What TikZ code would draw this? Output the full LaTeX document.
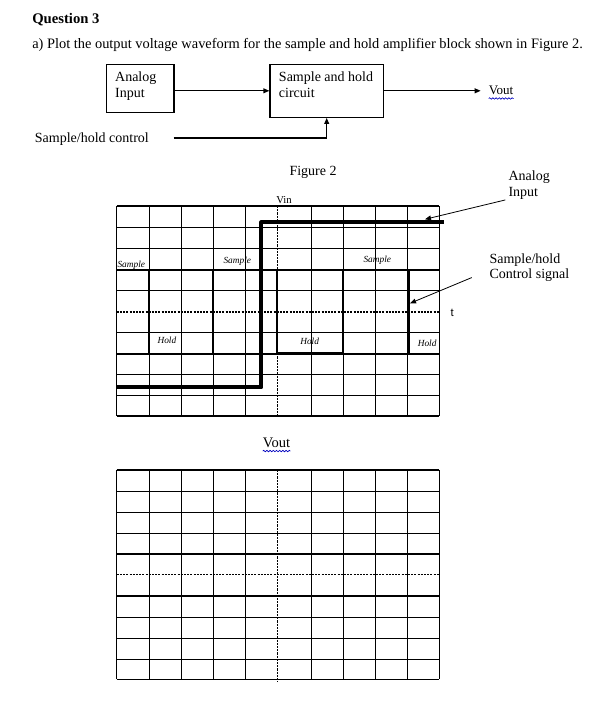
\documentclass[tikz,border=0pt]{standalone}
\usepackage{fontspec}
\setmainfont{Liberation Serif}
\newfontfamily\arialf{Liberation Sans}
\usetikzlibrary{arrows.meta,decorations.pathmorphing}
\begin{document}
\begin{tikzpicture}[x=0.75pt,y=-0.75pt,
  txt/.style={inner sep=0pt, anchor=base west, font=\fontsize{10.5pt}{12pt}\selectfont},
  blk/.style={draw, line width=0.9pt, inner sep=0pt},
  arr/.style={line width=0.9pt, -{Triangle[length=4.5pt,width=3.6pt]}},
  gridl/.style={line width=1pt},
  dashl/.style={line width=1.1pt, dash pattern=on 1.6pt off 0.8pt},
  vinl/.style={line width=3pt},
  ctll/.style={line width=1.6pt},
  lbl/.style={inner sep=0pt, anchor=base west, font=\fontsize{7pt}{8pt}\selectfont\itshape},
  squig/.style={blue!75!black, line width=0.5pt, decorate, decoration={snake, amplitude=0.55pt, segment length=2.4pt}}
]
\useasboundingbox (0,0) rectangle (592,718);
\fill[white] (0,0) rectangle (592,718);

% ---- heading ----
\node[txt, font=\fontsize{11pt}{13pt}\selectfont\bfseries] (q3) at (32,23) {Question 3};
\node[txt, font=\fontsize{10.8pt}{12pt}\selectfont] (qa) at (32,48.5) {a) Plot the output voltage waveform for the sample and hold amplifier block shown in Figure 2.};

% ---- block diagram ----
\node[blk, minimum width=50.55pt, minimum height=36.3pt] (ain) at (140.3,88.5) {};
\node[txt] (ain1) at (114.9,81.7) {Analog};
\node[txt] (ain2) at (114.9,97.3) {Input};
\node[blk, minimum width=85.05pt, minimum height=39.75pt] (sh) at (326.7,90.8) {};
\node[txt] (sh1) at (278.7,81.7) {Sample and hold};
\node[txt] (sh2) at (278.7,97.3) {circuit};
\node[txt, anchor=west, inner xsep=6pt, font=\fontsize{9.75pt}{11pt}\selectfont] (vo) at (480.7,90.8) {Vout};
\draw[squig] ([xshift=6pt,yshift=-2.3pt]vo.south west) -- ([xshift=-6pt,yshift=-2.3pt]vo.south east);
\node[txt] (ctl) at (34.6,142.3) {Sample/hold control};
\draw[arr] (sh.west -| ain.east) -- (sh.west);
\draw[arr] (sh.east) -- (vo.west);
\draw[arr] ([shift={(24.5,-1)}]ctl.east) -| (sh.south);

% ---- figure 2 ----
\node[txt] (fig) at (289.3,175) {Figure 2};
\node[txt, font=\fontsize{8pt}{9pt}\selectfont] (vin) at (276,203) {Vin};

% grid 1
\foreach \x in {116.7,149.3,181.3,213.3,245.3,311.3,343.3,375.3,407.3,439.3}
  \draw[gridl] (\x,206) -- (\x,416);
\foreach \y in {206,227.3,248.7,270,290.7,332.7,354,374.7,395.3,416}
  \draw[gridl] (116.7,\y) -- (439.3,\y);
\draw[dashl] (277.3,206) -- (277.3,416);
\draw[dashl] (116.7,312) -- (439.3,312);

% analog input waveform
\draw[vinl, line join=round] (116.7,387.3) -- (261.3,387.3) -- (261.3,222.3) -- (444,222.3);
% sample/hold control waveform
\draw[ctll] (116.7,270) -- (149.3,270) -- (149.3,354) -- (213.3,354) -- (213.3,270) -- (277.3,270)
  -- (277.3,352.7) -- (343.3,352.7) -- (343.3,270) -- (408.3,270);
\draw[line width=2.3pt] (408.3,270) -- (408.3,354);
\draw[ctll] (408.3,354) -- (439.3,354);

\node[lbl] (s1) at (117.3,267) {Sample};
\node[lbl] (s2) at (223.3,263) {Sample};
\node[lbl] (s3) at (363.3,262) {Sample};
\node[lbl] (h1) at (157.3,343.5) {Hold};
\node[lbl] (h2) at (300,344.5) {Hold};
\node[lbl] (h3) at (417.5,346.5) {Hold};

\node[inner sep=0pt, anchor=base, font=\fontsize{8.5pt}{10pt}\arialf] (tl) at (452.3,316) {t};

% annotations
\node[txt] (al1) at (508.3,180) {Analog};
\node[txt] (al2) at (508.3,196.7) {Input};
\node[txt] (cl1) at (489.3,263.3) {Sample/hold};
\node[txt] (cl2) at (489.3,278.3) {Control signal};
\coordinate (vintip) at (425,219.3);
\coordinate (ctltip) at (410,303.3);
\draw[line width=0.6pt, -{Triangle[length=4.5pt,width=3.6pt]}] ([shift={(-3,0)}]al2.south west) -- (vintip);
\draw[line width=0.6pt, -{Triangle[length=4.5pt,width=3.6pt]}] ([shift={(-17.6,-4)}]cl2.south west) -- (ctltip);

% ---- Vout grid ----
\node[txt, font=\fontsize{10.9pt}{12pt}\selectfont] (vout2) at (262.7,447.5) {Vout};
\draw[squig] ([yshift=-2.3pt]vout2.south west) -- ([yshift=-2.3pt]vout2.south east);
\foreach \x in {116.7,149.3,181.3,213.3,245.3,311.3,343.3,375.3,407.3,439.3}
  \draw[gridl] (\x,470) -- (\x,679.3);
\foreach \y in {470,491.3,512.3,533.3,554,596,617.3,638.7,659.3,679.3}
  \draw[gridl] (116.7,\y) -- (439.3,\y);
\draw[dashl] (277.3,470) -- (277.3,681.3);
\draw[dashl] (116.7,574.7) -- (439.3,574.7);
\end{tikzpicture}
\end{document}
